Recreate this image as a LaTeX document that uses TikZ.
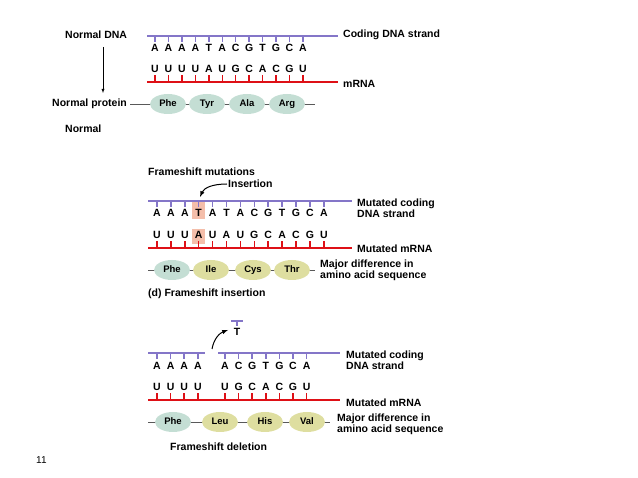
\documentclass[tikz,border=0pt]{standalone}
\usepackage{fontspec}
\setmainfont{Liberation Sans}
\definecolor{dnapurple}{RGB}{132,118,200}
\definecolor{rnared}{RGB}{222,16,22}
\definecolor{aateal}{RGB}{196,222,212}
\definecolor{aaolive}{RGB}{222,222,160}
\definecolor{hilite}{RGB}{244,190,170}
\tikzset{
  lbl/.style={font=\bfseries\fontsize{10.5}{11}\selectfont, anchor=west, inner sep=0pt, align=left},
  base/.style={font=\bfseries\fontsize{10.5}{11}\selectfont, inner sep=0pt, text height=7.5pt, text depth=0pt},
  aa/.style={ellipse, minimum width=36, minimum height=20, inner sep=0pt, text height=7pt, text depth=1.5pt, font=\bfseries\fontsize{9.5}{10}\selectfont},
  bb/.style={gray!70!black, line width=0.8pt},
}
\usetikzlibrary{shapes.geometric}
\begin{document}
\begin{tikzpicture}[x=1pt, y=-1pt]
    \useasboundingbox (0,0) rectangle (638,478);
    %----------------------
    % NORMAL
    %----------------------
    \node[lbl] (ndna) at (65,35) {Normal DNA};
    \draw[dnapurple, line width=2.2pt] (147,36) -- (338,36);
    \foreach \b [count=\i from 0] in {A,A,A,A,T,A,C,G,T,G,C,A} {
        \draw[dnapurple, line width=1.5pt] (155+13.45*\i,36) -- ++(0,6);
        \node[base] at (155+13.45*\i,48) {\b};
    }
    \node[lbl] at (343,35) {Coding DNA strand};
    \draw[rnared, line width=2.2pt] (147,82) -- (338,82);
    \foreach \b [count=\i from 0] in {U,U,U,U,A,U,G,C,A,C,G,U} {
        \draw[rnared, line width=1.5pt] (155+13.45*\i,82) -- ++(0,-7);
        \node[base] at (155+13.45*\i,69) {\b};
    }
    \node[lbl] at (343,84) {mRNA};
    \node[lbl] (nprot) at (52,104) {Normal protein};
    \draw[-latex] (103,47) -- (103,93);
    \coordinate (pend) at (315,104);
    \draw[bb] (nprot.east) ++(3,0) -- (pend);
    \node[aa, fill=aateal] (p1) at (168,104) {Phe};
    \node[aa, fill=aateal] (p2) at (207,104) {Tyr};
    \node[aa, fill=aateal] (p3) at (247,104) {Ala};
    \node[aa, fill=aateal] (p4) at (287,104) {Arg};
    \node[lbl] at (65,129) {Normal};

    %----------------------
    % FRAMESHIFT INSERTION
    %----------------------
    \node[lbl] at (148,172) {Frameshift mutations};
    \node[lbl] (ins) at (228,184) {Insertion};
    \fill[hilite] (192,201) rectangle (205,219);
    \fill[hilite] (192,229) rectangle (205,244);
    \draw[-latex, line width=1pt] (ins.west) ++(-1,0) .. controls (212,184) and (204,188) .. (200,197);
    \draw[dnapurple, line width=2.2pt] (148,201) -- (352,201);
    \foreach \b [count=\i from 0] in {A,A,A,T,A,T,A,C,G,T,G,C,A} {
        \draw[dnapurple, line width=1.5pt] (157+13.9*\i,201) -- ++(0,6);
        \node[base] at (157+13.9*\i,213) {\b};
    }
    \node[lbl] at (357,208) {Mutated coding\\DNA strand};
    \draw[rnared, line width=2.2pt] (148,248) -- (352,248);
    \foreach \b [count=\i from 0] in {U,U,U,A,U,A,U,G,C,A,C,G,U} {
        \draw[rnared, line width=1.5pt] (157+13.9*\i,248) -- ++(0,-7);
        \node[base] at (157+13.9*\i,235) {\b};
    }
    \node[lbl] at (357,249) {Mutated mRNA};
    \coordinate (qa) at (148,270);
    \coordinate (qb) at (315,270);
    \draw[bb] (qa) -- (qb);
    \node[aa, fill=aateal] (q1) at (172,270) {Phe};
    \node[aa, fill=aaolive] (q2) at (211,270) {Ile};
    \node[aa, fill=aaolive] (q3) at (253,270) {Cys};
    \node[aa, fill=aaolive] (q4) at (292,270) {Thr};
    \node[lbl] at (320,270) {Major difference in\\amino acid sequence};
    \node[lbl] at (148,294) {(d) Frameshift insertion};

    %----------------------
    % FRAMESHIFT DELETION
    %----------------------
    \draw[dnapurple, line width=2.2pt] (231,321) -- (243,321);
    \draw[dnapurple, line width=1.5pt] (237,321) -- (237,326);
    \node[base] (tt) at (237,332) {T};
    \draw[-latex, line width=1pt] (212,349) .. controls (214,338) and (220,333) .. (228,330);
    \draw[dnapurple, line width=2.2pt] (148,353) -- (205,353);
    \draw[dnapurple, line width=2.2pt] (218,353) -- (340,353);
    \foreach \b [count=\i from 0] in {A,A,A,A} {
        \draw[dnapurple, line width=1.5pt] (157+13.6*\i,353) -- ++(0,6);
        \node[base] at (157+13.6*\i,366) {\b};
    }
    \foreach \b [count=\i from 0] in {A,C,G,T,G,C,A} {
        \draw[dnapurple, line width=1.5pt] (225+13.6*\i,353) -- ++(0,6);
        \node[base] at (225+13.6*\i,366) {\b};
    }
    \node[lbl] at (346,360) {Mutated coding\\DNA strand};
    \draw[rnared, line width=2.2pt] (148,400) -- (340,400);
    \foreach \b [count=\i from 0] in {U,U,U,U} {
        \draw[rnared, line width=1.5pt] (157+13.6*\i,400) -- ++(0,-7);
        \node[base] at (157+13.6*\i,387) {\b};
    }
    \foreach \b [count=\i from 0] in {U,G,C,A,C,G,U} {
        \draw[rnared, line width=1.5pt] (225+13.6*\i,400) -- ++(0,-7);
        \node[base] at (225+13.6*\i,387) {\b};
    }
    \node[lbl] at (346,403) {Mutated mRNA};
    \coordinate (ra) at (148,422);
    \coordinate (rb) at (330,422);
    \draw[bb] (ra) -- (rb);
    \node[aa, fill=aateal] (r1) at (173,422) {Phe};
    \node[aa, fill=aaolive] (r2) at (220,422) {Leu};
    \node[aa, fill=aaolive] (r3) at (265,422) {His};
    \node[aa, fill=aaolive] (r4) at (307,422) {Val};
    \node[lbl] at (337,424) {Major difference in\\amino acid sequence};
    \node[lbl] at (170,447) {Frameshift deletion};

    \node[font=\fontsize{10}{11}\selectfont, anchor=west, inner sep=0pt] at (36,460) {11};
\end{tikzpicture}
\end{document}
